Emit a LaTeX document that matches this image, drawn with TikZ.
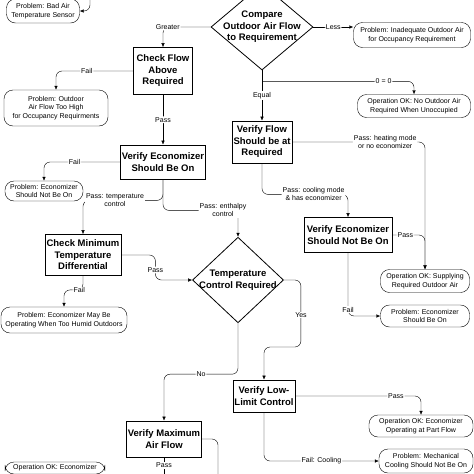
\documentclass[tikz,border=0pt]{standalone}
\usepackage{fontspec}
\setmainfont{Liberation Sans}
\usetikzlibrary{shapes.geometric,arrows.meta}
\tikzset{
  proc/.style={draw, thick, fill=white, align=center, inner sep=1pt,
    font=\fontsize{9.5}{11.5}\selectfont\bfseries},
  term/.style={draw, fill=white, rounded corners=9pt, align=center, inner sep=1pt,
    font=\fontsize{7}{8.6}\selectfont},
  dec/.style={draw, thick, diamond, fill=white, align=center, inner sep=-6pt,
    font=\fontsize{9.5}{11.5}\selectfont\bfseries},
  flow/.style={draw, -{Latex[length=4pt,width=3.5pt]}, rounded corners=6pt},
  lab/.style={fill=white, inner sep=1pt, align=center, font=\fontsize{7}{8}\selectfont}
}
\begin{document}
\begin{tikzpicture}[x=1pt,y=-1pt]
    \useasboundingbox (0,0) rectangle (474,474);
    \clip (0,0) rectangle (474,474);
    % nodes
    \node[term, minimum width=73, minimum height=24] (sensor) at (43,11) {Problem:  Bad Air\\Temperature Sensor};
    \node[dec, minimum width=102, minimum height=86] (cmp) at (262,27) {Compare\\Outdoor Air Flow\\to Requirement};
    \node[term, minimum width=117, minimum height=25] (inad) at (412,35) {Problem:  Inadequate Outdoor Air\\for Occupancy Requirement};
    \node[proc, minimum width=59, minimum height=47] (chk) at (163,71) {Check Flow\\Above\\Required};
    \node[term, minimum width=104, minimum height=36] (high) at (56,108) {Problem: Outdoor\\Air Flow Too High\\for Occupancy Requirments};
    \node[term, minimum width=113, minimum height=23] (unocc) at (414,106) {Operation OK:  No Outdoor Air\\Required When Unoccupied};
    \node[proc, minimum width=60, minimum height=42] (vflow) at (262,142) {Verify Flow\\Should be at\\Required};
    \node[proc, minimum width=83, minimum height=34] (veon) at (163,162) {Verify Economizer\\Should Be On};
    \node[term, minimum width=78, minimum height=20] (noton) at (44,191) {Problem:  Economizer\\Should Not Be On};
    \node[proc, minimum width=76, minimum height=41] (mindt) at (83,255) {Check Minimum\\Temperature\\Differential};
    \node[dec, minimum width=91, minimum height=74, inner sep=-3pt] (tcr) at (238,280) {Temperature\\Control Required};
    \node[proc, minimum width=88, minimum height=35] (venot) at (348,235) {Verify Economizer\\Should Not Be On};
    \node[term, minimum width=89, minimum height=23] (supp) at (425,281) {Operation OK: Supplying\\Required Outdoor Air};
    \node[term, minimum width=89, minimum height=22] (beon) at (425,316) {Problem:  Economizer\\Should Be On};
    \node[term, minimum width=126, minimum height=26] (humid) at (64,320) {Problem:  Economizer May Be\\Operating When Too Humid Outdoors};
    \node[proc, minimum width=62, minimum height=32] (llc) at (264,396) {Verify Low-\\Limit Control};
    \node[term, minimum width=104, minimum height=22] (part) at (421,426) {Operation OK:  Economizer\\Operating at Part Flow};
    \node[term, minimum width=94, minimum height=24] (mech) at (426,461) {Problem:  Mechanical\\Cooling Should Not Be On};
    \node[proc, minimum width=74, minimum height=36] (vmax) at (164,439) {Verify Maximum\\Air Flow};
    \node[term, minimum width=100, minimum height=12] (opok) at (55,468) {Operation OK:  Economizer};
    \coordinate (topin) at (90,-2);
    \coordinate (vmaxend) at (164,480);
    \coordinate (vmaxout) at (218,480);
    % connectors
    \draw[flow] (topin) |- (sensor.east);
    \draw[flow] (cmp.west) -| (chk.north) node[pos=.45, lab] {Greater};
    \draw[flow] (cmp.east) -- (cmp.east -| inad.west) node[midway, lab] {Less};
    \draw[flow] (cmp.south) -- (vflow.north) node[pos=.5, lab] {Equal};
    \draw[flow] (cmp.south) ++(0,11) -| (unocc.north) node[pos=.4, lab] {0 = 0};
    \draw[flow] (chk.west) -| (high.north) node[pos=.3, lab] {Fail};
    \draw[flow] (chk.south) -- (veon.north) node[midway, lab] {Pass};
    \draw[flow] (veon.west) -| (noton.north) node[pos=.3, lab] {Fail};
    \draw[flow] (veon.south) -- ++(0,21) -| (mindt.north) node[pos=.3, lab] {Pass: temperature\\control};
    \draw[flow] (veon.south) -- ++(0,31) -| (tcr.north) node[pos=.4, lab] {Pass: enthalpy\\control};
    \draw[flow] (mindt.east) -- ++(34,0) |- (tcr.west) node[pos=.3, lab] {Pass};
    \draw[flow] (mindt.south) -- ++(0,14) -| (humid.north) node[pos=.1, lab] {Fail};
    \draw[flow] (vflow.east) -| (supp.north) node[pos=.35, lab] {Pass: heating mode\\or no economizer};
    \draw[flow] (vflow.south) -- ++(0,31) -| (venot.north) node[pos=.3, lab] {Pass: cooling mode\\\& has economizer};
    \draw[flow] (venot.east) -| (supp.north) node[pos=.2, lab] {Pass};
    \draw[flow] (venot.south) |- (beon.west) node[pos=.45, lab] {Fail};
    \draw[flow] (tcr.east) -- ++(17,0) -- ++(0,67) -| (llc.north);
    \node[lab] (yes) at (301,315) {Yes};
    \draw[flow] (tcr.south) -- ++(0,51) -| (vmax.north) node[pos=.25, lab] {No};
    \draw[flow] (llc.east) -| (part.north) node[pos=.4, lab] {Pass};
    \draw[flow] (llc.south) |- (mech.west) node[pos=.75, lab] {Fail: Cooling};
    \draw (vmax.south) -- (vmaxend) node[pos=.35, lab] {Pass};
    \draw[rounded corners=6pt] (vmax.east) -| (vmaxout);
\end{tikzpicture}
\end{document}
